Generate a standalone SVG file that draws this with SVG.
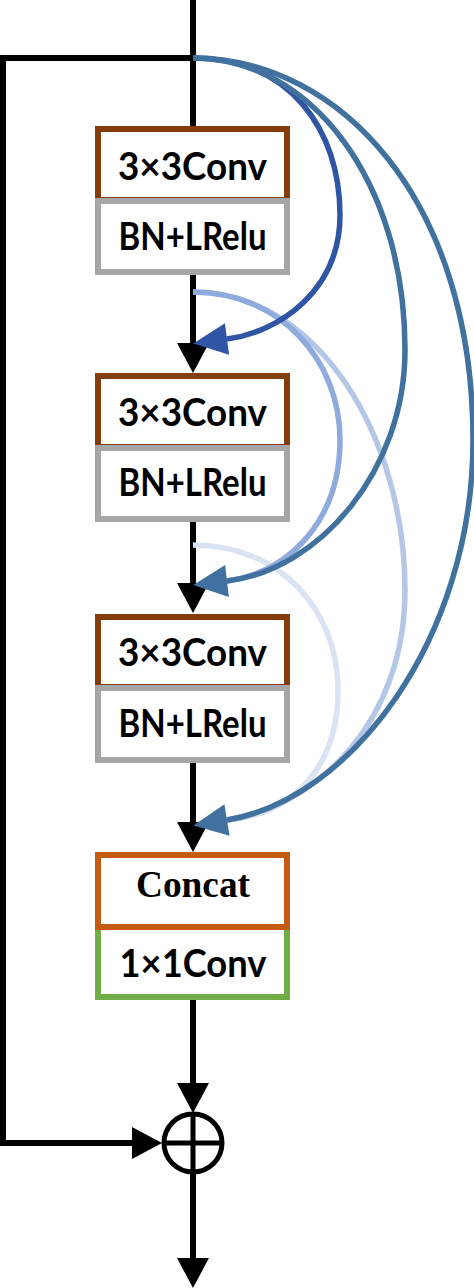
<svg xmlns="http://www.w3.org/2000/svg" width="474" height="1288" viewBox="0 0 474 1288">
<style>
.blk{fill:none;stroke:#000;stroke-width:6;stroke-linejoin:miter}
.cv{fill:none;stroke-width:5.5}
.box{fill:#fff;stroke-width:6}
.lbl{font-family:Lato,"Liberation Sans",sans-serif;font-weight:bold;font-size:39px;text-anchor:middle;fill:#000}
.ser{font-family:"Liberation Serif",serif;font-weight:bold;font-size:37px;text-anchor:middle;fill:#000}
</style>
<defs>
<marker id="ab" markerUnits="userSpaceOnUse" markerWidth="30" markerHeight="32" refX="0" refY="16" orient="auto" overflow="visible">
<path d="M0,0 L30,16 L0,32 z" fill="#000"/>
</marker>
<marker id="ad" markerUnits="userSpaceOnUse" markerWidth="34" markerHeight="32" refX="0" refY="16" orient="auto" overflow="visible">
<path d="M0,0 L34,16 L0,32 z" fill="#2F55A4"/>
</marker>
<marker id="as" markerUnits="userSpaceOnUse" markerWidth="34" markerHeight="32" refX="0" refY="16" orient="auto" overflow="visible">
<path d="M0,0 L34,16 L0,32 z" fill="#41729F"/>
</marker>
</defs>
<g id="connectors">
<path class="blk" d="M193,0 V127"/>
<path class="blk" d="M193,275 V343" marker-end="url(#ab)"/>
<path class="blk" d="M193,522 V583" marker-end="url(#ab)"/>
<path class="blk" d="M193,763 V822" marker-end="url(#ab)"/>
<path class="blk" d="M193,1000 V1083" marker-end="url(#ab)"/>
<path class="blk" d="M193,1172 V1258" marker-end="url(#ab)"/>
<path class="blk" d="M193,58 H3 V1143 H132" marker-end="url(#ab)"/>
<path id="f" class="cv" stroke="#DAE3F3" d="M193,545 C280,545 338,610 338,690 C338,770 290,815 227,820"/>
<path id="e" class="cv" stroke="#B4C7E7" d="M193,292 C320,292 405,440 405,590 C405,720 320,805 227,820"/>
<path id="d" class="cv" stroke="#8FAADC" d="M193,292 C280,292 340,360 340,440 C340,520 290,572 227,581"/>
<path id="a" class="cv" stroke="#2F55A4" d="M193,58 C290,58 340,130 340,215 C340,290 280,332 227,339" marker-end="url(#ad)"/>
<path id="b" class="cv" stroke="#41729F" d="M193,58 C310,58 405,180 405,350 C405,470 320,570 227,581" marker-end="url(#as)"/>
<path id="c" class="cv" stroke="#41729F" d="M193,58 C340,58 473,200 473,440 C473,640 350,800 227,820" marker-end="url(#as)"/>
</g>
<g id="block1">
<rect class="box" x="98" y="129" width="189" height="71" stroke="#843C0C"/>
<rect class="box" x="98" y="201" width="189" height="71" stroke="#A6A6A6"/>
<text class="lbl" x="192.5" y="180" textLength="149" lengthAdjust="spacingAndGlyphs">3×3Conv</text>
<text class="lbl" x="192.5" y="250" textLength="148" lengthAdjust="spacingAndGlyphs">BN+LRelu</text>
</g>
<g id="block2">
<rect class="box" x="98" y="376" width="189" height="71" stroke="#843C0C"/>
<rect class="box" x="98" y="448" width="189" height="71" stroke="#A6A6A6"/>
<text class="lbl" x="192.5" y="426" textLength="149" lengthAdjust="spacingAndGlyphs">3×3Conv</text>
<text class="lbl" x="192.5" y="496" textLength="148" lengthAdjust="spacingAndGlyphs">BN+LRelu</text>
</g>
<g id="block3">
<rect class="box" x="98" y="617" width="189" height="70" stroke="#843C0C"/>
<rect class="box" x="98" y="688" width="189" height="72" stroke="#A6A6A6"/>
<text class="lbl" x="192.5" y="666" textLength="149" lengthAdjust="spacingAndGlyphs">3×3Conv</text>
<text class="lbl" x="192.5" y="737" textLength="148" lengthAdjust="spacingAndGlyphs">BN+LRelu</text>
</g>
<g id="fusion">
<rect class="box" x="98" y="927" width="189" height="70" stroke="#70AD47"/>
<rect class="box" x="98" y="855" width="189" height="72" stroke="#C55A11"/>
<text class="ser" x="193" y="897" textLength="114" lengthAdjust="spacingAndGlyphs">Concat</text>
<text class="lbl" x="193" y="977" textLength="147" lengthAdjust="spacingAndGlyphs">1×1Conv</text>
</g>
<g id="add">
<circle cx="193" cy="1143" r="29" fill="#fff" stroke="#000" stroke-width="5"/>
<path d="M164,1143 H222 M193,1114 V1172" stroke="#000" stroke-width="5" fill="none"/>
</g>
</svg>
